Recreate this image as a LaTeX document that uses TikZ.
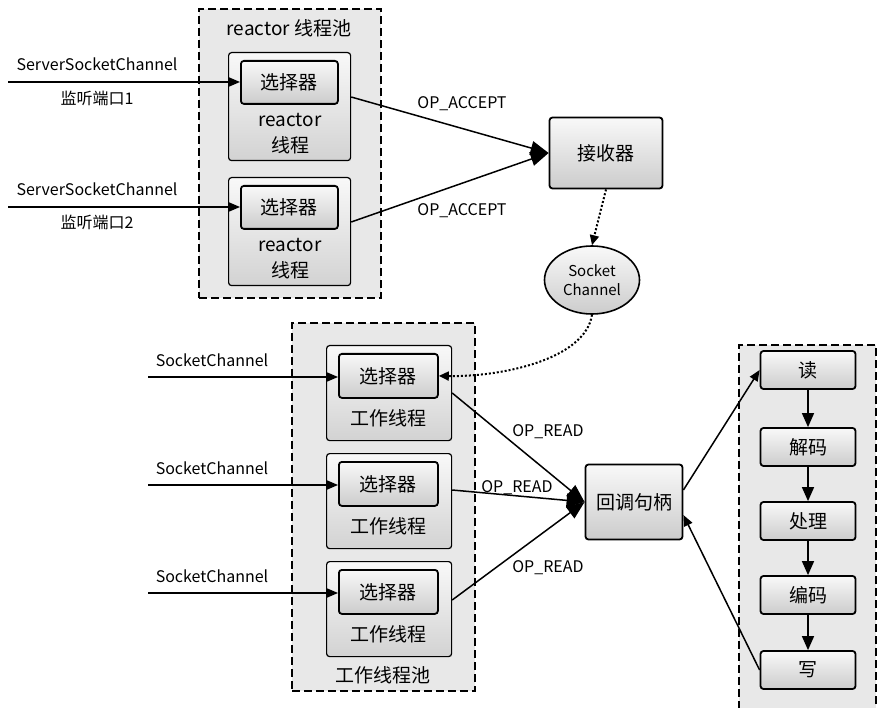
\documentclass[tikz,border=0pt]{standalone}
\usepackage{fontspec}
\setmainfont{Noto Sans CJK SC}
\usetikzlibrary{shapes.geometric,arrows.meta}
\begin{document}
\begin{tikzpicture}[x=1pt,y=-1pt,
 pool/.style={draw,dashed,line width=2pt,dash pattern=on 8pt off 4pt,fill=gray!18},
 thr/.style={draw,line width=1.2pt,rounded corners=3pt,top color=gray!5,bottom color=gray!35},
 sel/.style={draw,line width=1.8pt,rounded corners=3pt,top color=gray!5,bottom color=gray!40,font=\fontsize{19}{19}\selectfont},
 lbl/.style={font=\fontsize{16}{16}\selectfont},
 big/.style={font=\fontsize{19}{19}\selectfont},
 arr/.style={line width=1.5pt,-{Triangle[length=11pt,width=9pt]}},
 dot/.style={line width=2pt,dotted,-{Triangle[length=10pt,width=9pt]}}]
\useasboundingbox[fill=white] (0,0) rectangle (894,708);
% reactor pool
\node[pool,minimum width=182,minimum height=289,anchor=north west] (rpool) at (198,8) {};
\node[big] (rtitle) at (289,28) {reactor 线程池};
\foreach \i/\y in {1/52,2/177}{
 \node[thr,minimum width=122,minimum height=108,anchor=north west] (rt\i) at (228,\y) {};
 \node[sel,minimum width=97,minimum height=43,anchor=north west] (rs\i) at (240,\y+8) {选择器};
 \node[big] (rr\i) at (290,\y+68) {reactor};
 \node[big] (rx\i) at (290,\y+93) {线程};
}
\coordinate (in1) at (8,82); \coordinate (in2) at (8,207);
\draw[arr] (in1) -- (rs1.west|-in1);
\draw[arr] (in2) -- (rs2.west|-in2);
\node[lbl] (l1) at (97,64) {ServerSocketChannel};
\node[lbl] (l2) at (97,98) {监听端口1};
\node[lbl] (l3) at (97,189) {ServerSocketChannel};
\node[lbl] (l4) at (97,222) {监听端口2};
% acceptor
\node[sel,minimum width=113,minimum height=71] (acc) at (606,153) {接收器};
\draw[arr,-{Triangle[length=18pt,width=14pt]}] (rt1.east|-0,97) -- (acc.west);
\draw[arr,-{Triangle[length=18pt,width=14pt]}] (rt2.east|-0,222) -- (acc.west);
\node[lbl] (a1) at (462,104) {OP\_ACCEPT};
\node[lbl] (a2) at (462,211) {OP\_ACCEPT};
\node[ellipse,draw,line width=1.6pt,top color=gray!5,bottom color=gray!40,minimum width=95,minimum height=68,inner sep=1pt,align=center,font=\fontsize{15}{19}\selectfont] (sc) at (592,280) {Socket\\Channel};
\draw[dot] (acc.south) -- (sc.north);
% worker pool
\node[pool,minimum width=183,minimum height=368,anchor=north west] (wpool) at (291,322) {};
\node[big] (wt) at (383,675) {工作线程池};
\foreach \i/\y in {1/345,2/453,3/561}{
 \node[thr,minimum width=125,minimum height=95,anchor=north west] (wt\i) at (326,\y) {};
 \node[sel,minimum width=99,minimum height=44,anchor=north west] (ws\i) at (338,\y+8) {选择器};
 \node[big] (wx\i) at (388,\y+73) {工作线程};
 \coordinate (win\i) at (148,\y+32);
 \draw[arr] (win\i) -- (ws\i.west|-win\i);
 \node[lbl] (sl\i) at (212,\y+15) {SocketChannel};
}
\draw[dot] (sc.south) .. controls (585,360) and (500,377) .. (ws1.east);
% callback
\node[sel,minimum width=97,minimum height=75] (cb) at (634,502) {回调句柄};
\draw[arr,-{Triangle[length=18pt,width=14pt]}] (wt1.east|-0,393) -- (cb.west);
\draw[arr,-{Triangle[length=18pt,width=14pt]}] (wt2.east|-0,490) -- (cb.west);
\draw[arr,-{Triangle[length=18pt,width=14pt]}] (wt3.east|-0,600) -- (cb.west);
\node[lbl] (o1) at (548,432) {OP\_READ};
\node[lbl] (o2) at (517,488) {OP\_READ};
\node[lbl] (o3) at (548,568) {OP\_READ};
% pipeline
\node[pool,minimum width=137,minimum height=366,anchor=north west] (ppool) at (738,344) {};
\foreach \n/\t/\y in {p1/读/370,p2/解码/447,p3/处理/521,p4/编码/595,p5/写/670}{
 \node[sel,minimum width=95,minimum height=38] (\n) at (808,\y) {\t};
}
\foreach \a/\b in {p1/p2,p2/p3,p3/p4,p4/p5}{\draw[arr,-{Triangle[length=14pt,width=12pt]}] (\a) -- (\b);}
\draw[arr] (cb.east|-0,490) -- (p1.west);
\draw[arr] (p5.west) -- (cb.east|-0,515);
\end{tikzpicture}
\end{document}
